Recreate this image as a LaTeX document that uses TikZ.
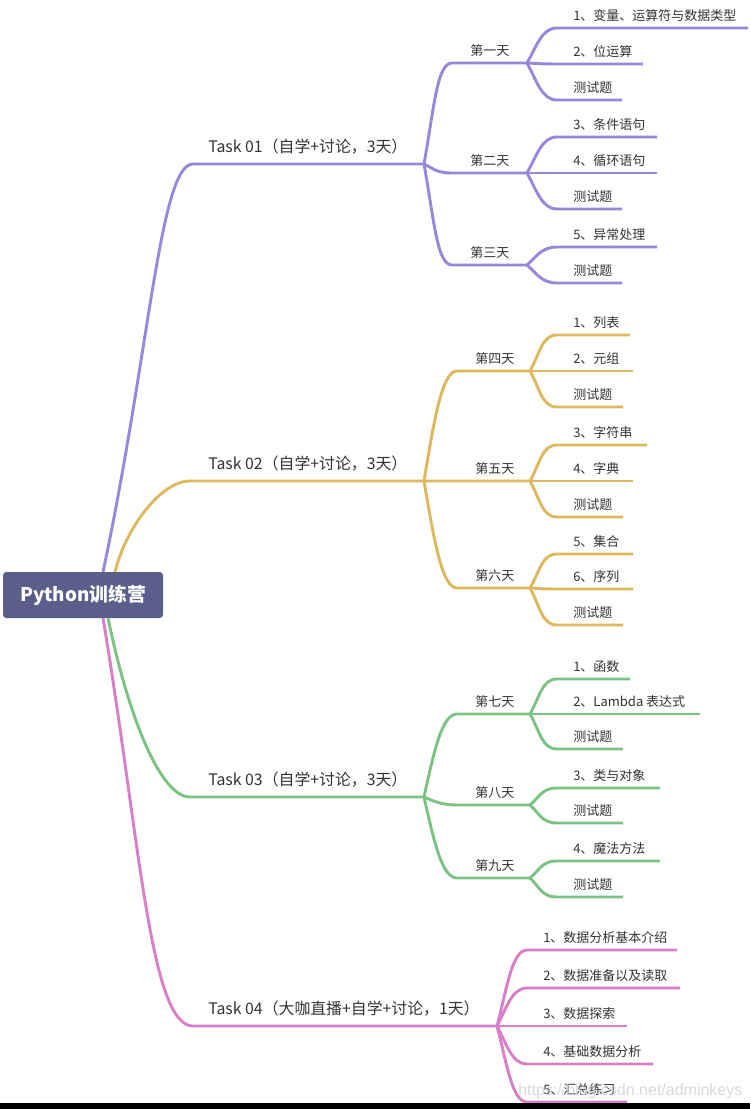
\documentclass[tikz,border=0pt]{standalone}
\usepackage{fontspec}
\setmainfont{Noto Sans CJK SC}
\newfontfamily\wmfont{Liberation Sans}
\usetikzlibrary{calc}
\definecolor{cpur}{RGB}{155,135,218}
\definecolor{cyel}{RGB}{222,184,94}
\definecolor{cgre}{RGB}{124,194,130}
\definecolor{cpin}{RGB}{215,128,200}
\definecolor{croot}{RGB}{89,95,138}
\definecolor{ctext}{RGB}{51,51,51}
\tikzset{
  br/.style={line width=2.2pt},
  leaftext/.style={anchor=west, inner sep=0pt, text=ctext, font=\fontsize{9.75}{11}\selectfont},
  daytext/.style={anchor=west, inner sep=0pt, text=ctext, font=\fontsize{9.75}{11}\selectfont},
  tasktext/.style={anchor=west, inner sep=0pt, text=ctext, font=\fontsize{11.9}{13}\selectfont},
  rootbox/.style={fill=croot, rounded corners=2.5pt, minimum width=120pt, minimum height=34.5pt, inner sep=0pt, outer sep=0pt, text=white, font=\bfseries\fontsize{14.1}{16}\selectfont},
}
% leaf: colour, junction, name, x start, y, x end, text
\newcommand\mmleaf[7]{%
  \coordinate (#3s) at (#4,#5);
  \coordinate (#3e) at (#6,#5);
  \draw[br,#1] (#2) .. controls ($(#2)!0.5!(#2 |- #3s) + (10,0)$) and +(-15,0) .. (#3s) -- (#3e);
  \node[leaftext] (#3) at ({#4+16},{#5-12.5}) {#7};
}
% day: colour, junction, name, x start, x end, y, label
\newcommand\mmday[7]{%
  \coordinate (#3s) at (#4,#6);
  \coordinate (#3e) at (#5,#6);
  \draw[br,#1] (#2) .. controls ($(#2)!0.55!(#2 |- #3s) + (10,0)$) and +(-15,0) .. (#3s) -- (#3e);
  \node[daytext] (#3) at ({#4+18},{#6-12}) {#7};
}
\begin{document}
\begin{tikzpicture}[x=0.75pt,y=-0.75pt]
\useasboundingbox (0,0) rectangle (750,1109);
\fill[white] (0,0) rectangle (750,1109);

% root
\node[rootbox] (root) at (83,595) {Python训练营};
\coordinate (r1) at ($(root.north west)+(100,0)$);
\coordinate (r2) at ($(root.north west)+(112,0)$);
\coordinate (r3) at ($(root.south west)+(105,0)$);
\coordinate (r4) at ($(root.south west)+(100,0)$);

% ---------- Task 01 ----------
\coordinate (t1s) at (193,164);
\coordinate (t1) at (424,164);
\draw[br,cpur] (r1) .. controls (150,350) and (160,164) .. (t1s) -- (t1);
\node[tasktext] (task1) at (208,147) {Task 01（自学+讨论，3天）};

\mmday{cpur}{t1}{d1}{452}{527}{63}{第一天}
\mmleaf{cpur}{d1e}{a1}{557}{28}{748}{1、变量、运算符与数据类型}
\mmleaf{cpur}{d1e}{a2}{557}{64}{643}{2、位运算}
\mmleaf{cpur}{d1e}{a3}{557}{100}{622}{测试题}

\mmday{cpur}{t1}{d2}{452}{527}{173}{第二天}
\mmleaf{cpur}{d2e}{b1}{557}{137}{657}{3、条件语句}
\mmleaf{cpur}{d2e}{b2}{557}{173}{657}{4、循环语句}
\mmleaf{cpur}{d2e}{b3}{557}{209}{622}{测试题}

\mmday{cpur}{t1}{d3}{452}{527}{265}{第三天}
\mmleaf{cpur}{d3e}{c1}{557}{247}{657}{5、异常处理}
\mmleaf{cpur}{d3e}{c2}{557}{283}{622}{测试题}

% ---------- Task 02 ----------
\coordinate (t2s) at (190,481);
\coordinate (t2) at (424,481);
\draw[br,cyel] (r2) .. controls (125,530) and (160,481) .. (t2s) -- (t2);
\node[tasktext] (task2) at (208,464) {Task 02（自学+讨论，3天）};

\mmday{cyel}{t2}{d4}{457}{530}{371}{第四天}
\mmleaf{cyel}{d4e}{e1}{557}{335}{630}{1、列表}
\mmleaf{cyel}{d4e}{e2}{557}{371}{633}{2、元组}
\mmleaf{cyel}{d4e}{e3}{557}{407}{623}{测试题}

\mmday{cyel}{t2}{d5}{457}{530}{481}{第五天}
\mmleaf{cyel}{d5e}{f1}{557}{445}{647}{3、字符串}
\mmleaf{cyel}{d5e}{f2}{557}{481}{633}{4、字典}
\mmleaf{cyel}{d5e}{f3}{557}{517}{623}{测试题}

\mmday{cyel}{t2}{d6}{457}{530}{588}{第六天}
\mmleaf{cyel}{d6e}{g1}{557}{554}{633}{5、集合}
\mmleaf{cyel}{d6e}{g2}{557}{589}{633}{6、序列}
\mmleaf{cyel}{d6e}{g3}{557}{625}{623}{测试题}

% ---------- Task 03 ----------
\coordinate (t3s) at (190,797);
\coordinate (t3) at (424,797);
\draw[br,cgre] (r3) .. controls (128,715) and (160,797) .. (t3s) -- (t3);
\node[tasktext] (task3) at (208,780) {Task 03（自学+讨论，3天）};

\mmday{cgre}{t3}{d7}{457}{530}{714}{第七天}
\mmleaf{cgre}{d7e}{h1}{557}{679}{630}{1、函数}
\mmleaf{cgre}{d7e}{h2}{557}{714}{700}{2、Lambda 表达式}
\mmleaf{cgre}{d7e}{h3}{557}{749}{623}{测试题}

\mmday{cgre}{t3}{d8}{457}{530}{805}{第八天}
\mmleaf{cgre}{d8e}{i1}{557}{788}{660}{3、类与对象}
\mmleaf{cgre}{d8e}{i2}{557}{823}{623}{测试题}

\mmday{cgre}{t3}{d9}{457}{530}{878}{第九天}
\mmleaf{cgre}{d9e}{j1}{557}{861}{660}{4、魔法方法}
\mmleaf{cgre}{d9e}{j2}{557}{897}{623}{测试题}

% ---------- Task 04 ----------
\coordinate (t4s) at (193,1026);
\coordinate (t4) at (497,1026);
\draw[br,cpin] (r4) .. controls (140,840) and (150,1026) .. (t4s) -- (t4);
\node[tasktext] (task4) at (208,1009) {Task 04（大咖直播+自学+讨论，1天）};

\mmleaf{cpin}{t4}{k1}{527}{950}{677}{1、数据分析基本介绍}
\mmleaf{cpin}{t4}{k2}{527}{988}{680}{2、数据准备以及读取}
\mmleaf{cpin}{t4}{k3}{527}{1026}{627}{3、数据探索}
\mmleaf{cpin}{t4}{k4}{527}{1064}{653}{4、基础数据分析}
\mmleaf{cpin}{t4}{k5}{527}{1102}{627}{5、汇总练习}

% watermark and bottom bar
\node[anchor=west, inner sep=0pt, text=gray!40, opacity=0.75, font=\wmfont\fontsize{12}{12}\selectfont] (wm) at (518,1091) {https://blog.csdn.net/adminkeys};
\fill[black] (0,1103) rectangle (750,1109);
\end{tikzpicture}
\end{document}
